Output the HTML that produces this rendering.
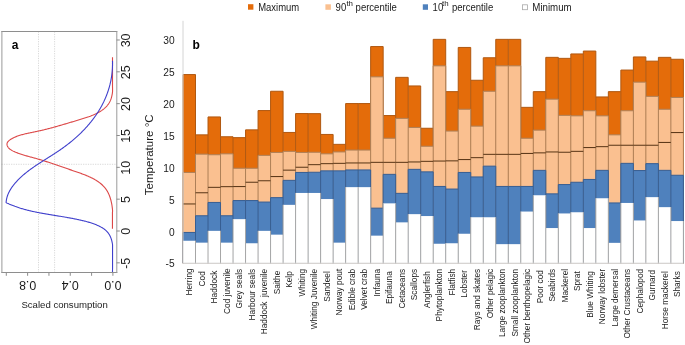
<!DOCTYPE html><html><head><meta charset="utf-8"><style>
html,body{margin:0;padding:0;background:#fff;}
body{width:685px;height:345px;overflow:hidden;font-family:"Liberation Sans",sans-serif;}
svg{display:block;will-change:transform;}
text{font-family:"Liberation Sans",sans-serif;}
</style></head><body>
<svg width="685" height="345" viewBox="0 0 685 345">
<g stroke="#d4d4d4" stroke-width="0.9" stroke-dasharray="1.2,1.2" fill="none">
<line x1="38.5" y1="31.5" x2="38.5" y2="272.5"/>
<line x1="54.6" y1="31.5" x2="54.6" y2="272.5"/>
<line x1="1.5" y1="164.3" x2="116.5" y2="164.3"/>
</g>
<path d="M112.50,57.20 L112.50,57.84 L112.50,58.49 L112.50,59.15 L112.50,59.83 L112.50,60.52 L112.50,61.22 L112.50,61.94 L112.50,62.67 L112.50,63.41 L112.50,64.16 L112.50,64.92 L112.50,65.69 L112.50,66.47 L112.50,67.26 L112.50,68.05 L112.50,68.86 L112.50,69.67 L112.50,70.49 L112.50,71.31 L112.50,72.14 L112.50,72.98 L112.50,73.81 L112.50,74.66 L112.50,75.50 L112.50,76.35 L112.50,77.20 L112.50,78.05 L112.50,78.91 L112.50,79.76 L112.50,80.62 L112.50,81.47 L112.50,82.32 L112.50,83.17 L112.50,84.02 L112.50,84.87 L112.50,85.71 L112.50,86.55 L112.50,87.38 L112.55,88.21 L112.55,89.04 L112.55,89.85 L112.55,90.67 L112.55,91.47 L112.48,92.27 L112.38,93.06 L112.26,93.84 L112.12,94.61 L111.97,95.37 L111.81,96.12 L111.62,96.86 L111.42,97.59 L111.20,98.30 L110.97,99.01 L110.71,99.70 L110.43,100.38 L110.14,101.04 L109.82,101.69 L109.48,102.32 L109.13,102.94 L108.75,103.54 L108.35,104.13 L107.93,104.71 L107.49,105.27 L107.03,105.82 L106.55,106.35 L106.06,106.87 L105.55,107.38 L105.02,107.87 L104.48,108.36 L103.92,108.83 L103.34,109.29 L102.76,109.74 L102.15,110.17 L101.54,110.60 L100.91,111.02 L100.26,111.42 L99.61,111.82 L98.94,112.21 L98.26,112.58 L97.58,112.95 L96.88,113.31 L96.17,113.66 L95.45,114.00 L94.73,114.34 L93.99,114.66 L93.25,114.98 L92.50,115.30 L91.75,115.60 L90.99,115.90 L90.22,116.20 L89.45,116.48 L88.67,116.77 L87.89,117.04 L87.10,117.31 L86.32,117.58 L85.53,117.84 L84.73,118.10 L83.94,118.35 L83.15,118.60 L82.35,118.85 L81.55,119.10 L80.76,119.34 L79.96,119.58 L79.17,119.81 L78.38,120.05 L77.59,120.28 L76.81,120.51 L76.02,120.75 L75.25,120.98 L74.47,121.21 L73.70,121.43 L72.93,121.66 L72.17,121.89 L71.41,122.12 L70.65,122.34 L69.90,122.57 L69.14,122.79 L68.40,123.01 L67.65,123.24 L66.90,123.46 L66.16,123.68 L65.42,123.90 L64.68,124.12 L63.95,124.33 L63.21,124.55 L62.48,124.77 L61.75,124.98 L61.01,125.19 L60.28,125.40 L59.55,125.62 L58.83,125.83 L58.10,126.03 L57.37,126.24 L56.64,126.45 L55.92,126.65 L55.19,126.86 L54.46,127.06 L53.73,127.26 L53.00,127.46 L52.28,127.66 L51.55,127.86 L50.82,128.05 L50.08,128.25 L49.35,128.44 L48.62,128.63 L47.88,128.82 L47.14,129.01 L46.40,129.20 L45.66,129.38 L44.92,129.57 L44.17,129.75 L43.43,129.93 L42.67,130.11 L41.92,130.29 L41.17,130.47 L40.41,130.64 L39.64,130.82 L38.88,130.99 L38.11,131.16 L37.34,131.32 L36.56,131.49 L35.78,131.66 L35.00,131.82 L34.21,131.98 L33.42,132.14 L32.62,132.30 L31.82,132.46 L31.03,132.62 L30.23,132.78 L29.42,132.95 L28.62,133.12 L27.82,133.29 L27.02,133.46 L26.22,133.64 L25.42,133.82 L24.62,134.01 L23.83,134.21 L23.04,134.41 L22.25,134.62 L21.47,134.84 L20.69,135.06 L19.91,135.30 L19.14,135.54 L18.38,135.80 L17.63,136.07 L16.88,136.34 L16.13,136.63 L15.40,136.94 L14.68,137.25 L13.96,137.59 L13.25,137.93 L12.56,138.29 L11.87,138.67 L11.19,139.06 L10.53,139.47 L9.90,139.90 L9.29,140.35 L8.73,140.82 L8.23,141.31 L7.80,141.83 L7.45,142.37 L7.19,142.94 L7.03,143.54 L6.98,144.17 L7.03,144.81 L7.18,145.45 L7.40,146.06 L7.70,146.66 L8.05,147.22 L8.47,147.76 L8.95,148.27 L9.47,148.76 L10.04,149.22 L10.66,149.66 L11.31,150.09 L11.99,150.49 L12.70,150.88 L13.44,151.25 L14.19,151.60 L14.96,151.94 L15.74,152.27 L16.53,152.58 L17.31,152.88 L18.10,153.18 L18.88,153.46 L19.66,153.73 L20.43,154.00 L21.21,154.26 L21.98,154.51 L22.75,154.75 L23.51,154.99 L24.28,155.22 L25.04,155.45 L25.80,155.67 L26.56,155.88 L27.31,156.10 L28.07,156.31 L28.82,156.51 L29.57,156.72 L30.32,156.92 L31.06,157.12 L31.81,157.32 L32.55,157.52 L33.29,157.72 L34.04,157.93 L34.77,158.13 L35.51,158.33 L36.25,158.54 L36.98,158.75 L37.71,158.96 L38.45,159.17 L39.18,159.38 L39.91,159.60 L40.64,159.82 L41.37,160.04 L42.09,160.26 L42.82,160.48 L43.55,160.71 L44.27,160.93 L45.00,161.16 L45.72,161.39 L46.45,161.62 L47.17,161.86 L47.90,162.09 L48.62,162.33 L49.34,162.56 L50.07,162.80 L50.79,163.04 L51.52,163.28 L52.24,163.53 L52.97,163.77 L53.70,164.01 L54.42,164.26 L55.15,164.51 L55.88,164.76 L56.61,165.01 L57.34,165.26 L58.07,165.51 L58.80,165.76 L59.53,166.01 L60.26,166.26 L61.00,166.52 L61.74,166.77 L62.47,167.03 L63.21,167.29 L63.95,167.54 L64.70,167.80 L65.44,168.06 L66.19,168.32 L66.93,168.58 L67.68,168.84 L68.44,169.10 L69.19,169.36 L69.95,169.62 L70.71,169.88 L71.47,170.14 L72.23,170.40 L73.00,170.66 L73.76,170.92 L74.53,171.18 L75.30,171.45 L76.08,171.71 L76.85,171.98 L77.62,172.24 L78.40,172.51 L79.17,172.78 L79.94,173.06 L80.71,173.34 L81.48,173.62 L82.25,173.90 L83.02,174.19 L83.78,174.48 L84.54,174.77 L85.29,175.07 L86.05,175.37 L86.80,175.68 L87.54,176.00 L88.28,176.31 L89.01,176.64 L89.74,176.97 L90.46,177.31 L91.18,177.65 L91.89,178.00 L92.59,178.36 L93.29,178.72 L93.97,179.10 L94.65,179.48 L95.32,179.86 L95.99,180.26 L96.64,180.67 L97.28,181.08 L97.91,181.51 L98.54,181.94 L99.15,182.38 L99.75,182.83 L100.34,183.30 L100.91,183.77 L101.48,184.25 L102.03,184.75 L102.57,185.26 L103.09,185.78 L103.61,186.31 L104.10,186.85 L104.59,187.40 L105.06,187.97 L105.51,188.55 L105.95,189.14 L106.37,189.75 L106.77,190.37 L107.16,191.01 L107.54,191.65 L107.90,192.31 L108.24,192.98 L108.57,193.67 L108.88,194.36 L109.18,195.06 L109.47,195.78 L109.74,196.50 L110.00,197.23 L110.24,197.97 L110.47,198.72 L110.69,199.48 L110.90,200.24 L111.09,201.01 L111.27,201.79 L111.45,202.58 L111.61,203.36 L111.75,204.16 L111.89,204.96 L112.02,205.76 L112.14,206.56 L112.24,207.37 L112.34,208.18 L112.43,209.00 L112.51,209.81 L112.55,210.63 L112.55,211.45 L112.45,212.26 L112.45,213.08 L112.45,213.90 L112.45,214.71 L112.45,215.53 L112.45,216.34 L112.45,217.15 L112.45,217.96 L112.45,218.76 L112.45,219.56 L112.45,220.36 L112.45,221.15 L112.45,221.94 L112.45,222.72 L112.45,223.49 L112.45,224.26 L112.45,225.02 L112.45,225.77 L112.45,226.52 L112.45,227.25 L112.45,227.98 L112.45,228.70" fill="none" stroke="#dc4848" stroke-width="1.1" stroke-linejoin="round"/>
<path d="M112.49,60.79 L112.51,61.59 L112.53,62.39 L112.53,63.19 L112.53,63.98 L112.52,64.77 L112.51,65.56 L112.48,66.34 L112.45,67.12 L112.42,67.91 L112.38,68.68 L112.33,69.46 L112.27,70.23 L112.21,71.00 L112.14,71.77 L112.07,72.53 L111.98,73.30 L111.89,74.06 L111.80,74.81 L111.70,75.57 L111.59,76.32 L111.48,77.07 L111.36,77.82 L111.23,78.56 L111.10,79.31 L110.96,80.05 L110.81,80.78 L110.66,81.52 L110.50,82.25 L110.34,82.98 L110.17,83.71 L110.00,84.43 L109.81,85.15 L109.63,85.87 L109.43,86.59 L109.23,87.30 L109.03,88.02 L108.82,88.72 L108.60,89.43 L108.38,90.14 L108.15,90.84 L107.92,91.54 L107.68,92.23 L107.44,92.93 L107.19,93.62 L106.93,94.31 L106.67,94.99 L106.40,95.68 L106.13,96.36 L105.85,97.04 L105.57,97.71 L105.28,98.39 L104.99,99.06 L104.69,99.73 L104.39,100.39 L104.08,101.05 L103.77,101.72 L103.45,102.37 L103.12,103.03 L102.79,103.68 L102.46,104.33 L102.12,104.98 L101.78,105.63 L101.43,106.27 L101.08,106.91 L100.72,107.55 L100.36,108.18 L99.99,108.81 L99.62,109.44 L99.24,110.07 L98.86,110.70 L98.47,111.32 L98.08,111.94 L97.69,112.55 L97.29,113.17 L96.88,113.78 L96.48,114.39 L96.06,115.00 L95.65,115.60 L95.22,116.20 L94.80,116.80 L94.37,117.40 L93.93,117.99 L93.50,118.58 L93.05,119.17 L92.61,119.76 L92.16,120.34 L91.70,120.92 L91.24,121.50 L90.78,122.08 L90.32,122.65 L89.85,123.22 L89.37,123.79 L88.89,124.35 L88.41,124.92 L87.93,125.48 L87.44,126.04 L86.95,126.59 L86.45,127.14 L85.95,127.69 L85.45,128.24 L84.94,128.79 L84.43,129.33 L83.92,129.87 L83.40,130.40 L82.88,130.94 L82.35,131.47 L81.83,132.00 L81.30,132.53 L80.76,133.05 L80.22,133.57 L79.68,134.09 L79.14,134.61 L78.60,135.12 L78.05,135.63 L77.49,136.14 L76.94,136.65 L76.38,137.15 L75.82,137.65 L75.25,138.15 L74.69,138.64 L74.12,139.14 L73.54,139.63 L72.97,140.12 L72.39,140.60 L71.81,141.08 L71.23,141.56 L70.64,142.04 L70.05,142.52 L69.46,142.99 L68.87,143.46 L68.27,143.92 L67.67,144.39 L67.07,144.85 L66.47,145.31 L65.86,145.77 L65.26,146.22 L64.65,146.67 L64.03,147.12 L63.42,147.56 L62.80,148.01 L62.18,148.45 L61.56,148.89 L60.94,149.32 L60.32,149.76 L59.69,150.19 L59.06,150.61 L58.43,151.04 L57.80,151.46 L57.17,151.89 L56.53,152.31 L55.90,152.72 L55.26,153.14 L54.62,153.56 L53.98,153.97 L53.34,154.38 L52.70,154.79 L52.06,155.20 L51.42,155.61 L50.78,156.02 L50.14,156.43 L49.49,156.83 L48.85,157.24 L48.21,157.64 L47.57,158.05 L46.92,158.45 L46.28,158.86 L45.64,159.26 L45.00,159.67 L44.36,160.07 L43.72,160.47 L43.08,160.88 L42.44,161.29 L41.80,161.69 L41.17,162.10 L40.53,162.51 L39.90,162.92 L39.27,163.33 L38.64,163.74 L38.01,164.15 L37.38,164.56 L36.75,164.98 L36.13,165.39 L35.51,165.81 L34.89,166.23 L34.27,166.65 L33.66,167.08 L33.05,167.50 L32.44,167.93 L31.83,168.36 L31.22,168.79 L30.62,169.23 L30.02,169.67 L29.43,170.11 L28.84,170.55 L28.25,171.00 L27.66,171.45 L27.08,171.90 L26.50,172.36 L25.92,172.82 L25.35,173.28 L24.78,173.75 L24.22,174.22 L23.66,174.70 L23.10,175.17 L22.55,175.66 L22.01,176.14 L21.46,176.63 L20.93,177.13 L20.39,177.63 L19.86,178.13 L19.34,178.64 L18.82,179.16 L18.31,179.68 L17.80,180.20 L17.30,180.73 L16.80,181.26 L16.31,181.80 L15.82,182.35 L15.34,182.90 L14.87,183.46 L14.40,184.02 L13.93,184.59 L13.48,185.16 L13.03,185.74 L12.59,186.33 L12.16,186.92 L11.74,187.52 L11.33,188.13 L10.93,188.74 L10.55,189.36 L10.17,189.99 L9.80,190.62 L9.45,191.26 L9.12,191.91 L8.79,192.57 L8.48,193.23 L8.19,193.90 L7.91,194.58 L7.65,195.27 L7.41,195.96 L7.18,196.67 L6.98,197.38 L6.79,198.10 L6.62,198.83 L6.47,199.56 L6.34,200.31 L6.23,201.06 L6.14,201.83 L6.08,202.60 L6.75,202.94 L7.42,203.26 L8.09,203.56 L8.76,203.86 L9.44,204.16 L10.12,204.44 L10.80,204.73 L11.48,205.01 L12.16,205.28 L12.84,205.55 L13.53,205.81 L14.22,206.07 L14.90,206.33 L15.59,206.57 L16.28,206.82 L16.98,207.06 L17.67,207.29 L18.37,207.53 L19.06,207.75 L19.76,207.98 L20.46,208.19 L21.16,208.41 L21.86,208.62 L22.56,208.83 L23.27,209.03 L23.97,209.23 L24.68,209.43 L25.39,209.62 L26.10,209.81 L26.81,209.99 L27.52,210.17 L28.23,210.35 L28.94,210.53 L29.66,210.70 L30.37,210.87 L31.09,211.04 L31.81,211.20 L32.53,211.37 L33.24,211.52 L33.97,211.68 L34.69,211.83 L35.41,211.99 L36.13,212.14 L36.86,212.28 L37.58,212.43 L38.31,212.57 L39.03,212.71 L39.76,212.85 L40.49,212.99 L41.22,213.12 L41.94,213.26 L42.67,213.39 L43.41,213.52 L44.14,213.65 L44.87,213.78 L45.60,213.91 L46.34,214.04 L47.07,214.16 L47.80,214.28 L48.54,214.41 L49.27,214.53 L50.01,214.65 L50.75,214.77 L51.48,214.89 L52.22,215.02 L52.96,215.14 L53.70,215.26 L54.44,215.37 L55.18,215.49 L55.92,215.61 L56.66,215.73 L57.40,215.85 L58.14,215.97 L58.88,216.09 L59.62,216.21 L60.36,216.33 L61.10,216.46 L61.84,216.58 L62.58,216.70 L63.33,216.83 L64.07,216.95 L64.81,217.08 L65.55,217.20 L66.30,217.33 L67.04,217.46 L67.78,217.59 L68.53,217.72 L69.27,217.85 L70.01,217.99 L70.75,218.13 L71.50,218.26 L72.24,218.40 L72.98,218.55 L73.72,218.69 L74.47,218.84 L75.21,218.98 L75.95,219.13 L76.69,219.29 L77.44,219.44 L78.18,219.60 L78.92,219.76 L79.66,219.92 L80.40,220.09 L81.14,220.25 L81.88,220.43 L82.62,220.60 L83.36,220.78 L84.10,220.96 L84.84,221.14 L85.57,221.33 L86.31,221.53 L87.04,221.72 L87.77,221.93 L88.50,222.14 L89.23,222.35 L89.95,222.57 L90.68,222.80 L91.40,223.03 L92.11,223.27 L92.83,223.51 L93.54,223.77 L94.24,224.03 L94.95,224.29 L95.65,224.57 L96.34,224.86 L97.03,225.15 L97.72,225.45 L98.40,225.76 L99.07,226.08 L99.74,226.41 L100.40,226.75 L101.05,227.11 L101.70,227.47 L102.32,227.84 L102.94,228.23 L103.54,228.63 L104.13,229.05 L104.70,229.48 L105.25,229.92 L105.78,230.37 L106.30,230.85 L106.79,231.33 L107.26,231.84 L107.71,232.36 L108.14,232.90 L108.54,233.45 L108.92,234.01 L109.28,234.59 L109.63,235.19 L109.95,235.80 L110.25,236.42 L110.53,237.05 L110.80,237.70 L111.05,238.36 L111.28,239.03 L111.49,239.71 L111.69,240.40 L111.87,241.10 L112.04,241.80 L112.19,242.52 L112.33,243.25 L112.45,243.98 L112.55,244.72 L112.55,245.47 L112.55,246.22 L112.55,246.98 L112.55,247.74 L112.55,248.51 L112.55,249.28 L112.55,250.06 L112.55,250.84 L112.55,251.62 L112.55,252.40 L112.55,253.19 L112.55,253.98 L112.55,254.77 L112.55,255.55 L112.55,256.34 L112.55,257.13 L112.55,257.92 L112.55,258.70 L112.55,259.49 L112.55,260.27 L112.55,261.04 L112.55,261.82 L112.55,262.59 L112.55,263.35 L112.55,264.11 L112.55,264.87 L112.55,265.61 L112.55,266.36 L112.55,267.09 L112.55,267.82 L112.55,268.54 L112.53,269.25 L112.51,269.95 L112.50,270.64 L112.50,271.33 L112.50,272.00" fill="none" stroke="#4040cc" stroke-width="1.1" stroke-linejoin="round"/>
<g stroke-width="1" fill="none">
<line x1="1.4" y1="31.5" x2="117.3" y2="31.5" stroke="#8e8e8e"/>
<line x1="1.4" y1="272.5" x2="117.3" y2="272.5" stroke="#8e8e8e"/>
<line x1="1.9" y1="31" x2="1.9" y2="273" stroke="#9a9a9a"/>
<line x1="116.8" y1="31" x2="116.8" y2="273" stroke="#9a9a9a"/>
</g>
<g stroke="#8c8c8c" stroke-width="1">
<line x1="116.5" y1="262.83" x2="119.8" y2="262.83"/>
<line x1="116.5" y1="231.00" x2="119.8" y2="231.00"/>
<line x1="116.5" y1="199.16" x2="119.8" y2="199.16"/>
<line x1="116.5" y1="167.33" x2="119.8" y2="167.33"/>
<line x1="116.5" y1="135.50" x2="119.8" y2="135.50"/>
<line x1="116.5" y1="103.66" x2="119.8" y2="103.66"/>
<line x1="116.5" y1="71.82" x2="119.8" y2="71.82"/>
<line x1="116.5" y1="39.99" x2="119.8" y2="39.99"/>
<line x1="112.90" y1="272.5" x2="112.90" y2="275.8"/>
<line x1="91.58" y1="272.5" x2="91.58" y2="275.8"/>
<line x1="70.26" y1="272.5" x2="70.26" y2="275.8"/>
<line x1="48.94" y1="272.5" x2="48.94" y2="275.8"/>
<line x1="27.62" y1="272.5" x2="27.62" y2="275.8"/>
<line x1="6.30" y1="272.5" x2="6.30" y2="275.8"/>
</g>
<g font-size="12.5" fill="#1a1a1a" text-anchor="middle">
<text transform="translate(130.4,263.23) rotate(-90)">-5</text>
<text transform="translate(130.4,231.40) rotate(-90)">0</text>
<text transform="translate(130.4,199.56) rotate(-90)">5</text>
<text transform="translate(130.4,167.73) rotate(-90)">10</text>
<text transform="translate(130.4,135.90) rotate(-90)">15</text>
<text transform="translate(130.4,104.06) rotate(-90)">20</text>
<text transform="translate(130.4,72.22) rotate(-90)">25</text>
<text transform="translate(130.4,40.39) rotate(-90)">30</text>
</g>
<g font-size="12.4" fill="#1a1a1a" text-anchor="middle">
<text transform="translate(112.90,281.3) rotate(180)">0.0</text>
<text transform="translate(70.26,281.3) rotate(180)">0.4</text>
<text transform="translate(27.62,281.3) rotate(180)">0.8</text>
</g>
<text x="64.6" y="308.4" font-size="9.6" fill="#222" text-anchor="middle">Scaled consumption</text>
<text x="11.8" y="49.4" font-size="12" font-weight="bold" fill="#000">a</text>
<text transform="translate(153,154.8) rotate(-90)" font-size="11.5" fill="#1a1a1a" text-anchor="middle">Temperature &#176;C</text>
<g font-size="10.2" fill="#1a1a1a" text-anchor="end">
<text x="174.6" y="267.33">-5</text>
<text x="174.6" y="235.50">0</text>
<text x="174.6" y="203.66">5</text>
<text x="174.6" y="171.83">10</text>
<text x="174.6" y="140.00">15</text>
<text x="174.6" y="108.16">20</text>
<text x="174.6" y="76.32">25</text>
<text x="174.6" y="44.49">30</text>
</g>
<text x="192.5" y="49.2" font-size="12" font-weight="bold" fill="#000">b</text>
<g fill="#E46C0A" stroke="none">
<rect x="183.00" y="74.55" width="12.51" height="188.65"/>
<rect x="195.51" y="134.85" width="12.51" height="128.35"/>
<rect x="208.02" y="116.95" width="12.51" height="146.25"/>
<rect x="220.53" y="136.75" width="12.51" height="126.45"/>
<rect x="233.04" y="137.65" width="12.51" height="125.55"/>
<rect x="245.55" y="129.85" width="12.51" height="133.35"/>
<rect x="258.06" y="110.55" width="12.51" height="152.65"/>
<rect x="270.57" y="91.25" width="12.51" height="171.95"/>
<rect x="283.08" y="132.45" width="12.51" height="130.75"/>
<rect x="295.59" y="113.55" width="12.51" height="149.65"/>
<rect x="308.10" y="113.65" width="12.51" height="149.55"/>
<rect x="320.61" y="134.45" width="12.51" height="128.75"/>
<rect x="333.12" y="144.35" width="12.51" height="118.85"/>
<rect x="345.63" y="103.55" width="12.51" height="159.65"/>
<rect x="358.14" y="103.55" width="12.51" height="159.65"/>
<rect x="370.65" y="46.55" width="12.51" height="216.65"/>
<rect x="383.16" y="115.55" width="12.51" height="147.65"/>
<rect x="395.67" y="77.35" width="12.51" height="185.85"/>
<rect x="408.18" y="85.95" width="12.51" height="177.25"/>
<rect x="420.69" y="128.25" width="12.51" height="134.95"/>
<rect x="433.20" y="39.35" width="12.51" height="223.85"/>
<rect x="445.71" y="91.65" width="12.51" height="171.55"/>
<rect x="458.22" y="47.45" width="12.51" height="215.75"/>
<rect x="470.73" y="80.25" width="12.51" height="182.95"/>
<rect x="483.24" y="57.75" width="12.51" height="205.45"/>
<rect x="495.75" y="39.35" width="12.51" height="223.85"/>
<rect x="508.26" y="39.35" width="12.51" height="223.85"/>
<rect x="520.77" y="107.35" width="12.51" height="155.85"/>
<rect x="533.28" y="91.65" width="12.51" height="171.55"/>
<rect x="545.79" y="57.35" width="12.51" height="205.85"/>
<rect x="558.30" y="58.35" width="12.51" height="204.85"/>
<rect x="570.81" y="53.95" width="12.51" height="209.25"/>
<rect x="583.32" y="51.05" width="12.51" height="212.15"/>
<rect x="595.83" y="96.95" width="12.51" height="166.25"/>
<rect x="608.34" y="91.65" width="12.51" height="171.55"/>
<rect x="620.85" y="70.05" width="12.51" height="193.15"/>
<rect x="633.36" y="56.95" width="12.51" height="206.25"/>
<rect x="645.87" y="61.15" width="12.51" height="202.05"/>
<rect x="658.38" y="57.35" width="12.51" height="205.85"/>
<rect x="670.89" y="59.25" width="12.51" height="203.95"/>
</g>
<g stroke="#B05810" stroke-width="1" fill="none">
<line x1="183.00" y1="74.55" x2="195.51" y2="74.55"/>
<line x1="195.51" y1="134.85" x2="208.02" y2="134.85"/>
<line x1="208.02" y1="116.95" x2="220.53" y2="116.95"/>
<line x1="220.53" y1="136.75" x2="233.04" y2="136.75"/>
<line x1="233.04" y1="137.65" x2="245.55" y2="137.65"/>
<line x1="245.55" y1="129.85" x2="258.06" y2="129.85"/>
<line x1="258.06" y1="110.55" x2="270.57" y2="110.55"/>
<line x1="270.57" y1="91.25" x2="283.08" y2="91.25"/>
<line x1="283.08" y1="132.45" x2="295.59" y2="132.45"/>
<line x1="295.59" y1="113.55" x2="308.10" y2="113.55"/>
<line x1="308.10" y1="113.65" x2="320.61" y2="113.65"/>
<line x1="320.61" y1="134.45" x2="333.12" y2="134.45"/>
<line x1="333.12" y1="144.35" x2="345.63" y2="144.35"/>
<line x1="345.63" y1="103.55" x2="358.14" y2="103.55"/>
<line x1="358.14" y1="103.55" x2="370.65" y2="103.55"/>
<line x1="370.65" y1="46.55" x2="383.16" y2="46.55"/>
<line x1="383.16" y1="115.55" x2="395.67" y2="115.55"/>
<line x1="395.67" y1="77.35" x2="408.18" y2="77.35"/>
<line x1="408.18" y1="85.95" x2="420.69" y2="85.95"/>
<line x1="420.69" y1="128.25" x2="433.20" y2="128.25"/>
<line x1="433.20" y1="39.35" x2="445.71" y2="39.35"/>
<line x1="445.71" y1="91.65" x2="458.22" y2="91.65"/>
<line x1="458.22" y1="47.45" x2="470.73" y2="47.45"/>
<line x1="470.73" y1="80.25" x2="483.24" y2="80.25"/>
<line x1="483.24" y1="57.75" x2="495.75" y2="57.75"/>
<line x1="495.75" y1="39.35" x2="508.26" y2="39.35"/>
<line x1="508.26" y1="39.35" x2="520.77" y2="39.35"/>
<line x1="520.77" y1="107.35" x2="533.28" y2="107.35"/>
<line x1="533.28" y1="91.65" x2="545.79" y2="91.65"/>
<line x1="545.79" y1="57.35" x2="558.30" y2="57.35"/>
<line x1="558.30" y1="58.35" x2="570.81" y2="58.35"/>
<line x1="570.81" y1="53.95" x2="583.32" y2="53.95"/>
<line x1="583.32" y1="51.05" x2="595.83" y2="51.05"/>
<line x1="595.83" y1="96.95" x2="608.34" y2="96.95"/>
<line x1="608.34" y1="91.65" x2="620.85" y2="91.65"/>
<line x1="620.85" y1="70.05" x2="633.36" y2="70.05"/>
<line x1="633.36" y1="56.95" x2="645.87" y2="56.95"/>
<line x1="645.87" y1="61.15" x2="658.38" y2="61.15"/>
<line x1="658.38" y1="57.35" x2="670.89" y2="57.35"/>
<line x1="670.89" y1="59.25" x2="683.40" y2="59.25"/>
<line x1="183.00" y1="74.55" x2="183.00" y2="263.20"/>
<line x1="195.51" y1="74.55" x2="195.51" y2="263.20"/>
<line x1="208.02" y1="116.95" x2="208.02" y2="263.20"/>
<line x1="220.53" y1="116.95" x2="220.53" y2="263.20"/>
<line x1="233.04" y1="136.75" x2="233.04" y2="263.20"/>
<line x1="245.55" y1="129.85" x2="245.55" y2="263.20"/>
<line x1="258.06" y1="110.55" x2="258.06" y2="263.20"/>
<line x1="270.57" y1="91.25" x2="270.57" y2="263.20"/>
<line x1="283.08" y1="91.25" x2="283.08" y2="263.20"/>
<line x1="295.59" y1="113.55" x2="295.59" y2="263.20"/>
<line x1="308.10" y1="113.55" x2="308.10" y2="263.20"/>
<line x1="320.61" y1="113.65" x2="320.61" y2="263.20"/>
<line x1="333.12" y1="134.45" x2="333.12" y2="263.20"/>
<line x1="345.63" y1="103.55" x2="345.63" y2="263.20"/>
<line x1="358.14" y1="103.55" x2="358.14" y2="263.20"/>
<line x1="370.65" y1="46.55" x2="370.65" y2="263.20"/>
<line x1="383.16" y1="46.55" x2="383.16" y2="263.20"/>
<line x1="395.67" y1="77.35" x2="395.67" y2="263.20"/>
<line x1="408.18" y1="77.35" x2="408.18" y2="263.20"/>
<line x1="420.69" y1="85.95" x2="420.69" y2="263.20"/>
<line x1="433.20" y1="39.35" x2="433.20" y2="263.20"/>
<line x1="445.71" y1="39.35" x2="445.71" y2="263.20"/>
<line x1="458.22" y1="47.45" x2="458.22" y2="263.20"/>
<line x1="470.73" y1="47.45" x2="470.73" y2="263.20"/>
<line x1="483.24" y1="57.75" x2="483.24" y2="263.20"/>
<line x1="495.75" y1="39.35" x2="495.75" y2="263.20"/>
<line x1="508.26" y1="39.35" x2="508.26" y2="263.20"/>
<line x1="520.77" y1="39.35" x2="520.77" y2="263.20"/>
<line x1="533.28" y1="91.65" x2="533.28" y2="263.20"/>
<line x1="545.79" y1="57.35" x2="545.79" y2="263.20"/>
<line x1="558.30" y1="57.35" x2="558.30" y2="263.20"/>
<line x1="570.81" y1="53.95" x2="570.81" y2="263.20"/>
<line x1="583.32" y1="51.05" x2="583.32" y2="263.20"/>
<line x1="595.83" y1="51.05" x2="595.83" y2="263.20"/>
<line x1="608.34" y1="91.65" x2="608.34" y2="263.20"/>
<line x1="620.85" y1="70.05" x2="620.85" y2="263.20"/>
<line x1="633.36" y1="56.95" x2="633.36" y2="263.20"/>
<line x1="645.87" y1="56.95" x2="645.87" y2="263.20"/>
<line x1="658.38" y1="57.35" x2="658.38" y2="263.20"/>
<line x1="670.89" y1="57.35" x2="670.89" y2="263.20"/>
<line x1="683.40" y1="59.25" x2="683.40" y2="263.20"/>
</g>
<g fill="#FAC090" stroke="none">
<rect x="183.00" y="172.45" width="12.51" height="90.75"/>
<rect x="195.51" y="154.15" width="12.51" height="109.05"/>
<rect x="208.02" y="154.75" width="12.51" height="108.45"/>
<rect x="220.53" y="153.85" width="12.51" height="109.35"/>
<rect x="233.04" y="168.25" width="12.51" height="94.95"/>
<rect x="245.55" y="168.25" width="12.51" height="94.95"/>
<rect x="258.06" y="155.35" width="12.51" height="107.85"/>
<rect x="270.57" y="152.45" width="12.51" height="110.75"/>
<rect x="283.08" y="151.35" width="12.51" height="111.85"/>
<rect x="295.59" y="152.45" width="12.51" height="110.75"/>
<rect x="308.10" y="152.25" width="12.51" height="110.95"/>
<rect x="320.61" y="153.85" width="12.51" height="109.35"/>
<rect x="333.12" y="151.95" width="12.51" height="111.25"/>
<rect x="345.63" y="150.05" width="12.51" height="113.15"/>
<rect x="358.14" y="150.05" width="12.51" height="113.15"/>
<rect x="370.65" y="76.85" width="12.51" height="186.35"/>
<rect x="383.16" y="138.25" width="12.51" height="124.95"/>
<rect x="395.67" y="118.35" width="12.51" height="144.85"/>
<rect x="408.18" y="127.45" width="12.51" height="135.75"/>
<rect x="420.69" y="146.25" width="12.51" height="116.95"/>
<rect x="433.20" y="65.85" width="12.51" height="197.35"/>
<rect x="445.71" y="131.05" width="12.51" height="132.15"/>
<rect x="458.22" y="109.25" width="12.51" height="153.95"/>
<rect x="470.73" y="126.15" width="12.51" height="137.05"/>
<rect x="483.24" y="91.25" width="12.51" height="171.95"/>
<rect x="495.75" y="65.85" width="12.51" height="197.35"/>
<rect x="508.26" y="65.85" width="12.51" height="197.35"/>
<rect x="520.77" y="138.25" width="12.51" height="124.95"/>
<rect x="533.28" y="130.15" width="12.51" height="133.05"/>
<rect x="545.79" y="99.15" width="12.51" height="164.05"/>
<rect x="558.30" y="115.35" width="12.51" height="147.85"/>
<rect x="570.81" y="115.85" width="12.51" height="147.35"/>
<rect x="583.32" y="110.75" width="12.51" height="152.45"/>
<rect x="595.83" y="115.85" width="12.51" height="147.35"/>
<rect x="608.34" y="134.85" width="12.51" height="128.35"/>
<rect x="620.85" y="110.75" width="12.51" height="152.45"/>
<rect x="633.36" y="82.15" width="12.51" height="181.05"/>
<rect x="645.87" y="96.35" width="12.51" height="166.85"/>
<rect x="658.38" y="109.25" width="12.51" height="153.95"/>
<rect x="670.89" y="97.45" width="12.51" height="165.75"/>
</g>
<g stroke="#AE8058" stroke-width="1" fill="none">
<line x1="183.00" y1="172.45" x2="195.51" y2="172.45"/>
<line x1="195.51" y1="154.15" x2="208.02" y2="154.15"/>
<line x1="208.02" y1="154.75" x2="220.53" y2="154.75"/>
<line x1="220.53" y1="153.85" x2="233.04" y2="153.85"/>
<line x1="233.04" y1="168.25" x2="245.55" y2="168.25"/>
<line x1="245.55" y1="168.25" x2="258.06" y2="168.25"/>
<line x1="258.06" y1="155.35" x2="270.57" y2="155.35"/>
<line x1="270.57" y1="152.45" x2="283.08" y2="152.45"/>
<line x1="283.08" y1="151.35" x2="295.59" y2="151.35"/>
<line x1="295.59" y1="152.45" x2="308.10" y2="152.45"/>
<line x1="308.10" y1="152.25" x2="320.61" y2="152.25"/>
<line x1="320.61" y1="153.85" x2="333.12" y2="153.85"/>
<line x1="333.12" y1="151.95" x2="345.63" y2="151.95"/>
<line x1="345.63" y1="150.05" x2="358.14" y2="150.05"/>
<line x1="358.14" y1="150.05" x2="370.65" y2="150.05"/>
<line x1="370.65" y1="76.85" x2="383.16" y2="76.85"/>
<line x1="383.16" y1="138.25" x2="395.67" y2="138.25"/>
<line x1="395.67" y1="118.35" x2="408.18" y2="118.35"/>
<line x1="408.18" y1="127.45" x2="420.69" y2="127.45"/>
<line x1="420.69" y1="146.25" x2="433.20" y2="146.25"/>
<line x1="433.20" y1="65.85" x2="445.71" y2="65.85"/>
<line x1="445.71" y1="131.05" x2="458.22" y2="131.05"/>
<line x1="458.22" y1="109.25" x2="470.73" y2="109.25"/>
<line x1="470.73" y1="126.15" x2="483.24" y2="126.15"/>
<line x1="483.24" y1="91.25" x2="495.75" y2="91.25"/>
<line x1="495.75" y1="65.85" x2="508.26" y2="65.85"/>
<line x1="508.26" y1="65.85" x2="520.77" y2="65.85"/>
<line x1="520.77" y1="138.25" x2="533.28" y2="138.25"/>
<line x1="533.28" y1="130.15" x2="545.79" y2="130.15"/>
<line x1="545.79" y1="99.15" x2="558.30" y2="99.15"/>
<line x1="558.30" y1="115.35" x2="570.81" y2="115.35"/>
<line x1="570.81" y1="115.85" x2="583.32" y2="115.85"/>
<line x1="583.32" y1="110.75" x2="595.83" y2="110.75"/>
<line x1="595.83" y1="115.85" x2="608.34" y2="115.85"/>
<line x1="608.34" y1="134.85" x2="620.85" y2="134.85"/>
<line x1="620.85" y1="110.75" x2="633.36" y2="110.75"/>
<line x1="633.36" y1="82.15" x2="645.87" y2="82.15"/>
<line x1="645.87" y1="96.35" x2="658.38" y2="96.35"/>
<line x1="658.38" y1="109.25" x2="670.89" y2="109.25"/>
<line x1="670.89" y1="97.45" x2="683.40" y2="97.45"/>
<line x1="183.00" y1="172.45" x2="183.00" y2="263.20"/>
<line x1="195.51" y1="154.15" x2="195.51" y2="263.20"/>
<line x1="208.02" y1="154.15" x2="208.02" y2="263.20"/>
<line x1="220.53" y1="153.85" x2="220.53" y2="263.20"/>
<line x1="233.04" y1="153.85" x2="233.04" y2="263.20"/>
<line x1="245.55" y1="168.25" x2="245.55" y2="263.20"/>
<line x1="258.06" y1="155.35" x2="258.06" y2="263.20"/>
<line x1="270.57" y1="152.45" x2="270.57" y2="263.20"/>
<line x1="283.08" y1="151.35" x2="283.08" y2="263.20"/>
<line x1="295.59" y1="151.35" x2="295.59" y2="263.20"/>
<line x1="308.10" y1="152.25" x2="308.10" y2="263.20"/>
<line x1="320.61" y1="152.25" x2="320.61" y2="263.20"/>
<line x1="333.12" y1="151.95" x2="333.12" y2="263.20"/>
<line x1="345.63" y1="150.05" x2="345.63" y2="263.20"/>
<line x1="358.14" y1="150.05" x2="358.14" y2="263.20"/>
<line x1="370.65" y1="76.85" x2="370.65" y2="263.20"/>
<line x1="383.16" y1="76.85" x2="383.16" y2="263.20"/>
<line x1="395.67" y1="118.35" x2="395.67" y2="263.20"/>
<line x1="408.18" y1="118.35" x2="408.18" y2="263.20"/>
<line x1="420.69" y1="127.45" x2="420.69" y2="263.20"/>
<line x1="433.20" y1="65.85" x2="433.20" y2="263.20"/>
<line x1="445.71" y1="65.85" x2="445.71" y2="263.20"/>
<line x1="458.22" y1="109.25" x2="458.22" y2="263.20"/>
<line x1="470.73" y1="109.25" x2="470.73" y2="263.20"/>
<line x1="483.24" y1="91.25" x2="483.24" y2="263.20"/>
<line x1="495.75" y1="65.85" x2="495.75" y2="263.20"/>
<line x1="508.26" y1="65.85" x2="508.26" y2="263.20"/>
<line x1="520.77" y1="65.85" x2="520.77" y2="263.20"/>
<line x1="533.28" y1="130.15" x2="533.28" y2="263.20"/>
<line x1="545.79" y1="99.15" x2="545.79" y2="263.20"/>
<line x1="558.30" y1="99.15" x2="558.30" y2="263.20"/>
<line x1="570.81" y1="115.35" x2="570.81" y2="263.20"/>
<line x1="583.32" y1="110.75" x2="583.32" y2="263.20"/>
<line x1="595.83" y1="110.75" x2="595.83" y2="263.20"/>
<line x1="608.34" y1="115.85" x2="608.34" y2="263.20"/>
<line x1="620.85" y1="110.75" x2="620.85" y2="263.20"/>
<line x1="633.36" y1="82.15" x2="633.36" y2="263.20"/>
<line x1="645.87" y1="82.15" x2="645.87" y2="263.20"/>
<line x1="658.38" y1="96.35" x2="658.38" y2="263.20"/>
<line x1="670.89" y1="97.45" x2="670.89" y2="263.20"/>
<line x1="683.40" y1="97.45" x2="683.40" y2="263.20"/>
</g>
<g fill="#4F81BD" stroke="none">
<rect x="183.00" y="232.45" width="12.51" height="30.75"/>
<rect x="195.51" y="215.75" width="12.51" height="47.45"/>
<rect x="208.02" y="202.45" width="12.51" height="60.75"/>
<rect x="220.53" y="215.75" width="12.51" height="47.45"/>
<rect x="233.04" y="200.55" width="12.51" height="62.65"/>
<rect x="245.55" y="200.55" width="12.51" height="62.65"/>
<rect x="258.06" y="202.05" width="12.51" height="61.15"/>
<rect x="270.57" y="197.65" width="12.51" height="65.55"/>
<rect x="283.08" y="180.35" width="12.51" height="82.85"/>
<rect x="295.59" y="172.45" width="12.51" height="90.75"/>
<rect x="308.10" y="172.25" width="12.51" height="90.95"/>
<rect x="320.61" y="170.85" width="12.51" height="92.35"/>
<rect x="333.12" y="170.85" width="12.51" height="92.35"/>
<rect x="345.63" y="169.95" width="12.51" height="93.25"/>
<rect x="358.14" y="169.95" width="12.51" height="93.25"/>
<rect x="370.65" y="208.15" width="12.51" height="55.05"/>
<rect x="383.16" y="174.35" width="12.51" height="88.85"/>
<rect x="395.67" y="193.35" width="12.51" height="69.85"/>
<rect x="408.18" y="169.35" width="12.51" height="93.85"/>
<rect x="420.69" y="171.85" width="12.51" height="91.35"/>
<rect x="433.20" y="186.45" width="12.51" height="76.75"/>
<rect x="445.71" y="189.05" width="12.51" height="74.15"/>
<rect x="458.22" y="172.45" width="12.51" height="90.75"/>
<rect x="470.73" y="176.95" width="12.51" height="86.25"/>
<rect x="483.24" y="166.15" width="12.51" height="97.05"/>
<rect x="495.75" y="186.45" width="12.51" height="76.75"/>
<rect x="508.26" y="186.45" width="12.51" height="76.75"/>
<rect x="520.77" y="186.45" width="12.51" height="76.75"/>
<rect x="533.28" y="170.35" width="12.51" height="92.85"/>
<rect x="545.79" y="193.85" width="12.51" height="69.35"/>
<rect x="558.30" y="184.55" width="12.51" height="78.65"/>
<rect x="570.81" y="182.25" width="12.51" height="80.95"/>
<rect x="583.32" y="179.45" width="12.51" height="83.75"/>
<rect x="595.83" y="170.35" width="12.51" height="92.85"/>
<rect x="608.34" y="202.95" width="12.51" height="60.25"/>
<rect x="620.85" y="163.35" width="12.51" height="99.85"/>
<rect x="633.36" y="170.55" width="12.51" height="92.65"/>
<rect x="645.87" y="163.65" width="12.51" height="99.55"/>
<rect x="658.38" y="170.35" width="12.51" height="92.85"/>
<rect x="670.89" y="175.25" width="12.51" height="87.95"/>
</g>
<g stroke="#375E92" stroke-width="1" fill="none">
<line x1="183.00" y1="232.45" x2="195.51" y2="232.45"/>
<line x1="195.51" y1="215.75" x2="208.02" y2="215.75"/>
<line x1="208.02" y1="202.45" x2="220.53" y2="202.45"/>
<line x1="220.53" y1="215.75" x2="233.04" y2="215.75"/>
<line x1="233.04" y1="200.55" x2="245.55" y2="200.55"/>
<line x1="245.55" y1="200.55" x2="258.06" y2="200.55"/>
<line x1="258.06" y1="202.05" x2="270.57" y2="202.05"/>
<line x1="270.57" y1="197.65" x2="283.08" y2="197.65"/>
<line x1="283.08" y1="180.35" x2="295.59" y2="180.35"/>
<line x1="295.59" y1="172.45" x2="308.10" y2="172.45"/>
<line x1="308.10" y1="172.25" x2="320.61" y2="172.25"/>
<line x1="320.61" y1="170.85" x2="333.12" y2="170.85"/>
<line x1="333.12" y1="170.85" x2="345.63" y2="170.85"/>
<line x1="345.63" y1="169.95" x2="358.14" y2="169.95"/>
<line x1="358.14" y1="169.95" x2="370.65" y2="169.95"/>
<line x1="370.65" y1="208.15" x2="383.16" y2="208.15"/>
<line x1="383.16" y1="174.35" x2="395.67" y2="174.35"/>
<line x1="395.67" y1="193.35" x2="408.18" y2="193.35"/>
<line x1="408.18" y1="169.35" x2="420.69" y2="169.35"/>
<line x1="420.69" y1="171.85" x2="433.20" y2="171.85"/>
<line x1="433.20" y1="186.45" x2="445.71" y2="186.45"/>
<line x1="445.71" y1="189.05" x2="458.22" y2="189.05"/>
<line x1="458.22" y1="172.45" x2="470.73" y2="172.45"/>
<line x1="470.73" y1="176.95" x2="483.24" y2="176.95"/>
<line x1="483.24" y1="166.15" x2="495.75" y2="166.15"/>
<line x1="495.75" y1="186.45" x2="508.26" y2="186.45"/>
<line x1="508.26" y1="186.45" x2="520.77" y2="186.45"/>
<line x1="520.77" y1="186.45" x2="533.28" y2="186.45"/>
<line x1="533.28" y1="170.35" x2="545.79" y2="170.35"/>
<line x1="545.79" y1="193.85" x2="558.30" y2="193.85"/>
<line x1="558.30" y1="184.55" x2="570.81" y2="184.55"/>
<line x1="570.81" y1="182.25" x2="583.32" y2="182.25"/>
<line x1="583.32" y1="179.45" x2="595.83" y2="179.45"/>
<line x1="595.83" y1="170.35" x2="608.34" y2="170.35"/>
<line x1="608.34" y1="202.95" x2="620.85" y2="202.95"/>
<line x1="620.85" y1="163.35" x2="633.36" y2="163.35"/>
<line x1="633.36" y1="170.55" x2="645.87" y2="170.55"/>
<line x1="645.87" y1="163.65" x2="658.38" y2="163.65"/>
<line x1="658.38" y1="170.35" x2="670.89" y2="170.35"/>
<line x1="670.89" y1="175.25" x2="683.40" y2="175.25"/>
<line x1="183.00" y1="232.45" x2="183.00" y2="263.20"/>
<line x1="195.51" y1="215.75" x2="195.51" y2="263.20"/>
<line x1="208.02" y1="202.45" x2="208.02" y2="263.20"/>
<line x1="220.53" y1="202.45" x2="220.53" y2="263.20"/>
<line x1="233.04" y1="200.55" x2="233.04" y2="263.20"/>
<line x1="245.55" y1="200.55" x2="245.55" y2="263.20"/>
<line x1="258.06" y1="200.55" x2="258.06" y2="263.20"/>
<line x1="270.57" y1="197.65" x2="270.57" y2="263.20"/>
<line x1="283.08" y1="180.35" x2="283.08" y2="263.20"/>
<line x1="295.59" y1="172.45" x2="295.59" y2="263.20"/>
<line x1="308.10" y1="172.25" x2="308.10" y2="263.20"/>
<line x1="320.61" y1="170.85" x2="320.61" y2="263.20"/>
<line x1="333.12" y1="170.85" x2="333.12" y2="263.20"/>
<line x1="345.63" y1="169.95" x2="345.63" y2="263.20"/>
<line x1="358.14" y1="169.95" x2="358.14" y2="263.20"/>
<line x1="370.65" y1="169.95" x2="370.65" y2="263.20"/>
<line x1="383.16" y1="174.35" x2="383.16" y2="263.20"/>
<line x1="395.67" y1="174.35" x2="395.67" y2="263.20"/>
<line x1="408.18" y1="169.35" x2="408.18" y2="263.20"/>
<line x1="420.69" y1="169.35" x2="420.69" y2="263.20"/>
<line x1="433.20" y1="171.85" x2="433.20" y2="263.20"/>
<line x1="445.71" y1="186.45" x2="445.71" y2="263.20"/>
<line x1="458.22" y1="172.45" x2="458.22" y2="263.20"/>
<line x1="470.73" y1="172.45" x2="470.73" y2="263.20"/>
<line x1="483.24" y1="166.15" x2="483.24" y2="263.20"/>
<line x1="495.75" y1="166.15" x2="495.75" y2="263.20"/>
<line x1="508.26" y1="186.45" x2="508.26" y2="263.20"/>
<line x1="520.77" y1="186.45" x2="520.77" y2="263.20"/>
<line x1="533.28" y1="170.35" x2="533.28" y2="263.20"/>
<line x1="545.79" y1="170.35" x2="545.79" y2="263.20"/>
<line x1="558.30" y1="184.55" x2="558.30" y2="263.20"/>
<line x1="570.81" y1="182.25" x2="570.81" y2="263.20"/>
<line x1="583.32" y1="179.45" x2="583.32" y2="263.20"/>
<line x1="595.83" y1="170.35" x2="595.83" y2="263.20"/>
<line x1="608.34" y1="170.35" x2="608.34" y2="263.20"/>
<line x1="620.85" y1="163.35" x2="620.85" y2="263.20"/>
<line x1="633.36" y1="163.35" x2="633.36" y2="263.20"/>
<line x1="645.87" y1="163.65" x2="645.87" y2="263.20"/>
<line x1="658.38" y1="163.65" x2="658.38" y2="263.20"/>
<line x1="670.89" y1="170.35" x2="670.89" y2="263.20"/>
<line x1="683.40" y1="175.25" x2="683.40" y2="263.20"/>
</g>
<g fill="#FFFFFF" stroke="none">
<rect x="183.00" y="240.75" width="12.51" height="22.45"/>
<rect x="195.51" y="242.65" width="12.51" height="20.55"/>
<rect x="208.02" y="230.85" width="12.51" height="32.35"/>
<rect x="220.53" y="242.65" width="12.51" height="20.55"/>
<rect x="233.04" y="219.15" width="12.51" height="44.05"/>
<rect x="245.55" y="243.25" width="12.51" height="19.95"/>
<rect x="258.06" y="230.85" width="12.51" height="32.35"/>
<rect x="270.57" y="234.65" width="12.51" height="28.55"/>
<rect x="283.08" y="204.85" width="12.51" height="58.35"/>
<rect x="295.59" y="192.95" width="12.51" height="70.25"/>
<rect x="308.10" y="192.95" width="12.51" height="70.25"/>
<rect x="320.61" y="199.05" width="12.51" height="64.15"/>
<rect x="333.12" y="242.65" width="12.51" height="20.55"/>
<rect x="345.63" y="187.15" width="12.51" height="76.05"/>
<rect x="358.14" y="187.15" width="12.51" height="76.05"/>
<rect x="370.65" y="235.65" width="12.51" height="27.55"/>
<rect x="383.16" y="203.35" width="12.51" height="59.85"/>
<rect x="395.67" y="222.35" width="12.51" height="40.85"/>
<rect x="408.18" y="214.15" width="12.51" height="49.05"/>
<rect x="420.69" y="216.05" width="12.51" height="47.15"/>
<rect x="433.20" y="243.75" width="12.51" height="19.45"/>
<rect x="445.71" y="243.25" width="12.51" height="19.95"/>
<rect x="458.22" y="233.75" width="12.51" height="29.45"/>
<rect x="470.73" y="217.25" width="12.51" height="45.95"/>
<rect x="483.24" y="217.25" width="12.51" height="45.95"/>
<rect x="495.75" y="244.15" width="12.51" height="19.05"/>
<rect x="508.26" y="244.15" width="12.51" height="19.05"/>
<rect x="520.77" y="211.55" width="12.51" height="51.65"/>
<rect x="533.28" y="195.25" width="12.51" height="67.95"/>
<rect x="545.79" y="228.05" width="12.51" height="35.15"/>
<rect x="558.30" y="213.45" width="12.51" height="49.75"/>
<rect x="570.81" y="212.25" width="12.51" height="50.95"/>
<rect x="583.32" y="228.05" width="12.51" height="35.15"/>
<rect x="595.83" y="198.25" width="12.51" height="64.95"/>
<rect x="608.34" y="242.85" width="12.51" height="20.35"/>
<rect x="620.85" y="202.95" width="12.51" height="60.25"/>
<rect x="633.36" y="220.45" width="12.51" height="42.75"/>
<rect x="645.87" y="197.15" width="12.51" height="66.05"/>
<rect x="658.38" y="207.15" width="12.51" height="56.05"/>
<rect x="670.89" y="221.05" width="12.51" height="42.15"/>
</g>
<g stroke="#A6A6A6" stroke-width="1" fill="none">
<line x1="195.51" y1="240.75" x2="195.51" y2="263.20"/>
<line x1="208.02" y1="230.85" x2="208.02" y2="263.20"/>
<line x1="220.53" y1="230.85" x2="220.53" y2="263.20"/>
<line x1="233.04" y1="219.15" x2="233.04" y2="263.20"/>
<line x1="245.55" y1="219.15" x2="245.55" y2="263.20"/>
<line x1="258.06" y1="230.85" x2="258.06" y2="263.20"/>
<line x1="270.57" y1="230.85" x2="270.57" y2="263.20"/>
<line x1="283.08" y1="204.85" x2="283.08" y2="263.20"/>
<line x1="295.59" y1="192.95" x2="295.59" y2="263.20"/>
<line x1="308.10" y1="192.95" x2="308.10" y2="263.20"/>
<line x1="320.61" y1="192.95" x2="320.61" y2="263.20"/>
<line x1="333.12" y1="199.05" x2="333.12" y2="263.20"/>
<line x1="345.63" y1="187.15" x2="345.63" y2="263.20"/>
<line x1="358.14" y1="187.15" x2="358.14" y2="263.20"/>
<line x1="370.65" y1="187.15" x2="370.65" y2="263.20"/>
<line x1="383.16" y1="203.35" x2="383.16" y2="263.20"/>
<line x1="395.67" y1="203.35" x2="395.67" y2="263.20"/>
<line x1="408.18" y1="214.15" x2="408.18" y2="263.20"/>
<line x1="420.69" y1="214.15" x2="420.69" y2="263.20"/>
<line x1="433.20" y1="216.05" x2="433.20" y2="263.20"/>
<line x1="445.71" y1="243.25" x2="445.71" y2="263.20"/>
<line x1="458.22" y1="233.75" x2="458.22" y2="263.20"/>
<line x1="470.73" y1="217.25" x2="470.73" y2="263.20"/>
<line x1="483.24" y1="217.25" x2="483.24" y2="263.20"/>
<line x1="495.75" y1="217.25" x2="495.75" y2="263.20"/>
<line x1="508.26" y1="244.15" x2="508.26" y2="263.20"/>
<line x1="520.77" y1="211.55" x2="520.77" y2="263.20"/>
<line x1="533.28" y1="195.25" x2="533.28" y2="263.20"/>
<line x1="545.79" y1="195.25" x2="545.79" y2="263.20"/>
<line x1="558.30" y1="213.45" x2="558.30" y2="263.20"/>
<line x1="570.81" y1="212.25" x2="570.81" y2="263.20"/>
<line x1="583.32" y1="212.25" x2="583.32" y2="263.20"/>
<line x1="595.83" y1="198.25" x2="595.83" y2="263.20"/>
<line x1="608.34" y1="198.25" x2="608.34" y2="263.20"/>
<line x1="620.85" y1="202.95" x2="620.85" y2="263.20"/>
<line x1="633.36" y1="202.95" x2="633.36" y2="263.20"/>
<line x1="645.87" y1="197.15" x2="645.87" y2="263.20"/>
<line x1="658.38" y1="197.15" x2="658.38" y2="263.20"/>
<line x1="670.89" y1="207.15" x2="670.89" y2="263.20"/>
<line x1="683.40" y1="221.05" x2="683.40" y2="263.20"/>
</g>
<g stroke="#5E3A1A" stroke-width="1.05">
<line x1="183.00" y1="203.95" x2="195.51" y2="203.95"/>
<line x1="195.51" y1="192.75" x2="208.02" y2="192.75"/>
<line x1="208.02" y1="187.35" x2="220.53" y2="187.35"/>
<line x1="220.53" y1="186.65" x2="233.04" y2="186.65"/>
<line x1="233.04" y1="186.55" x2="245.55" y2="186.55"/>
<line x1="245.55" y1="182.25" x2="258.06" y2="182.25"/>
<line x1="258.06" y1="180.75" x2="270.57" y2="180.75"/>
<line x1="270.57" y1="176.55" x2="283.08" y2="176.55"/>
<line x1="283.08" y1="170.15" x2="295.59" y2="170.15"/>
<line x1="295.59" y1="167.25" x2="308.10" y2="167.25"/>
<line x1="308.10" y1="164.65" x2="320.61" y2="164.65"/>
<line x1="320.61" y1="163.65" x2="333.12" y2="163.65"/>
<line x1="333.12" y1="163.35" x2="345.63" y2="163.35"/>
<line x1="345.63" y1="162.95" x2="358.14" y2="162.95"/>
<line x1="358.14" y1="162.95" x2="370.65" y2="162.95"/>
<line x1="370.65" y1="162.35" x2="383.16" y2="162.35"/>
<line x1="383.16" y1="162.35" x2="395.67" y2="162.35"/>
<line x1="395.67" y1="162.35" x2="408.18" y2="162.35"/>
<line x1="408.18" y1="161.95" x2="420.69" y2="161.95"/>
<line x1="420.69" y1="161.35" x2="433.20" y2="161.35"/>
<line x1="433.20" y1="161.05" x2="445.71" y2="161.05"/>
<line x1="445.71" y1="160.85" x2="458.22" y2="160.85"/>
<line x1="458.22" y1="159.55" x2="470.73" y2="159.55"/>
<line x1="470.73" y1="157.65" x2="483.24" y2="157.65"/>
<line x1="483.24" y1="154.35" x2="495.75" y2="154.35"/>
<line x1="495.75" y1="154.35" x2="508.26" y2="154.35"/>
<line x1="508.26" y1="154.35" x2="520.77" y2="154.35"/>
<line x1="520.77" y1="153.45" x2="533.28" y2="153.45"/>
<line x1="533.28" y1="152.85" x2="545.79" y2="152.85"/>
<line x1="545.79" y1="151.95" x2="558.30" y2="151.95"/>
<line x1="558.30" y1="152.25" x2="570.81" y2="152.25"/>
<line x1="570.81" y1="151.35" x2="583.32" y2="151.35"/>
<line x1="583.32" y1="147.55" x2="595.83" y2="147.55"/>
<line x1="595.83" y1="146.65" x2="608.34" y2="146.65"/>
<line x1="608.34" y1="145.25" x2="620.85" y2="145.25"/>
<line x1="620.85" y1="145.25" x2="633.36" y2="145.25"/>
<line x1="633.36" y1="145.25" x2="645.87" y2="145.25"/>
<line x1="645.87" y1="145.25" x2="658.38" y2="145.25"/>
<line x1="658.38" y1="142.45" x2="670.89" y2="142.45"/>
<line x1="670.89" y1="132.55" x2="683.40" y2="132.55"/>
</g>
<line x1="183" y1="20.8" x2="183" y2="263.20" stroke="#d4d4d4" stroke-width="1"/>
<line x1="183" y1="263.20" x2="683" y2="263.20" stroke="#d4d4d4" stroke-width="1"/>
<g font-size="8.3" fill="#1a1a1a" text-anchor="end">
<text transform="translate(192.25,268.30) rotate(-90)" xml:space="preserve">Herring</text>
<text transform="translate(204.76,271.20) rotate(-90)" xml:space="preserve">Cod</text>
<text transform="translate(217.28,270.70) rotate(-90)" xml:space="preserve">Haddock</text>
<text transform="translate(229.78,268.30) rotate(-90)" xml:space="preserve">Cod juvenile</text>
<text transform="translate(242.29,268.80) rotate(-90)" xml:space="preserve">Grey seals</text>
<text transform="translate(254.81,268.80) rotate(-90)" xml:space="preserve">Harbour seals</text>
<text transform="translate(267.31,268.80) rotate(-90)" xml:space="preserve">Haddock  juvenile</text>
<text transform="translate(279.82,270.70) rotate(-90)" xml:space="preserve">Saithe</text>
<text transform="translate(292.33,271.20) rotate(-90)" xml:space="preserve">Kelp</text>
<text transform="translate(304.85,268.80) rotate(-90)" xml:space="preserve">Whiting</text>
<text transform="translate(317.36,268.80) rotate(-90)" xml:space="preserve">Whiting Juvenile</text>
<text transform="translate(329.87,271.20) rotate(-90)" xml:space="preserve">Sandeel</text>
<text transform="translate(342.38,268.80) rotate(-90)" xml:space="preserve">Norway pout</text>
<text transform="translate(354.88,268.80) rotate(-90)" xml:space="preserve">Edible crab</text>
<text transform="translate(367.39,268.80) rotate(-90)" xml:space="preserve">Velvet crab</text>
<text transform="translate(379.90,268.80) rotate(-90)" xml:space="preserve">Infauna</text>
<text transform="translate(392.41,271.20) rotate(-90)" xml:space="preserve">Epifauna</text>
<text transform="translate(404.92,268.80) rotate(-90)" xml:space="preserve">Cetaceans</text>
<text transform="translate(417.44,268.80) rotate(-90)" xml:space="preserve">Scallops</text>
<text transform="translate(429.94,271.20) rotate(-90)" xml:space="preserve">Anglerfish</text>
<text transform="translate(442.45,268.80) rotate(-90)" xml:space="preserve">Phytoplankton</text>
<text transform="translate(454.96,268.80) rotate(-90)" xml:space="preserve">Flatfish</text>
<text transform="translate(467.47,270.00) rotate(-90)" xml:space="preserve">Lobster</text>
<text transform="translate(479.99,268.80) rotate(-90)" xml:space="preserve">Rays and skates</text>
<text transform="translate(492.50,268.80) rotate(-90)" xml:space="preserve">Other pelagic</text>
<text transform="translate(505.00,268.80) rotate(-90)" xml:space="preserve">Large zooplankton</text>
<text transform="translate(517.51,268.80) rotate(-90)" xml:space="preserve">Small zooplankton</text>
<text transform="translate(530.02,268.80) rotate(-90)" xml:space="preserve">Other benthopelagic</text>
<text transform="translate(542.53,270.00) rotate(-90)" xml:space="preserve">Poor cod</text>
<text transform="translate(555.04,268.80) rotate(-90)" xml:space="preserve">Seabirds</text>
<text transform="translate(567.55,268.80) rotate(-90)" xml:space="preserve">Mackerel</text>
<text transform="translate(580.06,271.20) rotate(-90)" xml:space="preserve">Sprat</text>
<text transform="translate(592.57,271.20) rotate(-90)" xml:space="preserve">Blue Whiting</text>
<text transform="translate(605.08,268.80) rotate(-90)" xml:space="preserve">Norway lobster</text>
<text transform="translate(617.59,268.80) rotate(-90)" xml:space="preserve">Large demersal</text>
<text transform="translate(630.10,268.80) rotate(-90)" xml:space="preserve">Other Crustaceans</text>
<text transform="translate(642.62,268.80) rotate(-90)" xml:space="preserve">Cephalopod</text>
<text transform="translate(655.12,270.00) rotate(-90)" xml:space="preserve">Gurnard</text>
<text transform="translate(667.63,271.20) rotate(-90)" xml:space="preserve">Horse mackerel</text>
<text transform="translate(680.14,271.20) rotate(-90)" xml:space="preserve">Sharks</text>
</g>
<g font-size="10" fill="#1a1a1a">
<rect x="248" y="4.2" width="5.4" height="5.5" fill="#E46C0A"/>
<text x="258.2" y="11.0" textLength="41" lengthAdjust="spacingAndGlyphs">Maximum</text>
<rect x="325.4" y="4.3" width="5.5" height="5.5" fill="#FAC090"/>
<text x="335.6" y="11.0" textLength="10.6" lengthAdjust="spacingAndGlyphs">90</text>
<text x="346.4" y="6.4" font-size="7" textLength="6.6" lengthAdjust="spacingAndGlyphs">th</text>
<text x="355.6" y="11.0" textLength="41.3" lengthAdjust="spacingAndGlyphs">percentile</text>
<rect x="422.8" y="4.3" width="5.2" height="5.5" fill="#4F81BD"/>
<text x="432.6" y="11.0" textLength="10.6" lengthAdjust="spacingAndGlyphs">10</text>
<text x="442.0" y="6.4" font-size="7" textLength="6.6" lengthAdjust="spacingAndGlyphs">th</text>
<text x="451.9" y="11.0" textLength="41.3" lengthAdjust="spacingAndGlyphs">percentile</text>
<rect x="522.6" y="4.8" width="4.9" height="4.9" fill="#fff" stroke="#a8a8a8" stroke-width="0.8"/>
<text x="532.3" y="11.0" textLength="39.4" lengthAdjust="spacingAndGlyphs">Minimum</text>
</g>
</svg></body></html>
